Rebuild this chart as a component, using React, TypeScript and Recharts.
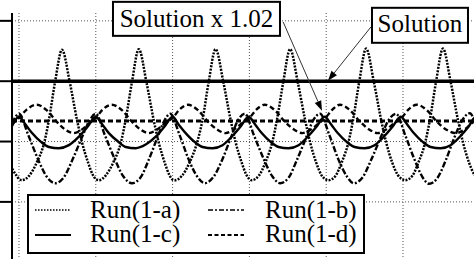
import React from 'react';
import { LineChart, Line, XAxis, YAxis, CartesianGrid, ReferenceLine, ReferenceDot, Legend } from 'recharts';

// ---------- data (axis units: one grid period on x, one tick step on y) ----------
const xTicks = [0, 1, 2, 3, 4, 5, 6];
const yTicks = [0, 1, 2, 3];
const xDomain: [number, number] = [-0.091, 6.393];
const yDomain: [number, number] = [-1.46, 3.13];

const solution = 2.0;
const solutionTimes102 = 1.34;

const run1a: [number, number][] = [
  [-0.09, 0.55], [-0.04, 0.45],
  [0.0, 0.38], [0.04, 0.36], [0.13, 0.43], [0.23, 0.65], [0.33, 0.99], [0.39, 1.36], [0.47, 1.99], [0.56, 2.52], [0.66, 1.99], [0.755, 1.36], [0.82, 0.99], [0.9, 0.65], [0.96, 0.45],
  [1.0, 0.38], [1.04, 0.36], [1.13, 0.44], [1.23, 0.66], [1.33, 1.0], [1.39, 1.37], [1.47, 1.98], [1.56, 2.53], [1.66, 1.98], [1.755, 1.35], [1.82, 0.98], [1.9, 0.64], [1.96, 0.44],
  [2.0, 0.37], [2.03, 0.36], [2.12, 0.43], [2.22, 0.65], [2.32, 0.99], [2.39, 1.36], [2.47, 1.99], [2.56, 2.53], [2.66, 1.99], [2.755, 1.36], [2.82, 0.99], [2.9, 0.65], [2.96, 0.45],
  [3.0, 0.38], [3.03, 0.36], [3.12, 0.43], [3.21, 0.66], [3.3, 1.0], [3.36, 1.37], [3.44, 1.98], [3.53, 2.53], [3.63, 1.98], [3.725, 1.36], [3.79, 0.99], [3.87, 0.65], [3.94, 0.44],
  [4.0, 0.37], [4.03, 0.36], [4.12, 0.43], [4.2, 0.65], [4.29, 0.99], [4.35, 1.36], [4.43, 1.99], [4.52, 2.54], [4.62, 1.99], [4.715, 1.36], [4.78, 0.99], [4.86, 0.65], [4.93, 0.45],
  [5.0, 0.37], [5.03, 0.36], [5.12, 0.43], [5.2, 0.65], [5.29, 0.99], [5.35, 1.36], [5.43, 1.99], [5.52, 2.54], [5.62, 1.99], [5.715, 1.36], [5.78, 0.99], [5.86, 0.65], [5.93, 0.45],
  [6.0, 0.37], [6.03, 0.36], [6.12, 0.43], [6.2, 0.65], [6.29, 0.99], [6.35, 1.36], [6.4, 1.75],
];

const run1b: [number, number][] = [
  [-0.09, 1.3],
  [0.0, 1.46], [0.12, 1.11], [0.25, 0.7], [0.36, 0.42], [0.47, 0.31], [0.58, 0.4], [0.7, 0.71], [0.82, 1.07], [0.92, 1.35],
  [1.0, 1.46], [1.12, 1.1], [1.25, 0.7], [1.36, 0.42], [1.47, 0.31], [1.58, 0.4], [1.69, 0.7], [1.8, 1.06], [1.89, 1.34],
  [1.97, 1.46], [2.09, 1.11], [2.21, 0.7], [2.32, 0.42], [2.42, 0.31], [2.53, 0.41], [2.65, 0.71], [2.76, 1.07], [2.85, 1.35],
  [2.94, 1.46], [3.06, 1.1], [3.19, 0.7], [3.3, 0.42], [3.4, 0.31], [3.51, 0.4], [3.62, 0.7], [3.74, 1.07], [3.83, 1.35],
  [3.92, 1.46], [4.04, 1.11], [4.16, 0.7], [4.27, 0.42], [4.36, 0.31], [4.47, 0.4], [4.59, 0.71], [4.71, 1.07], [4.81, 1.35],
  [4.91, 1.46], [5.03, 1.1], [5.15, 0.7], [5.25, 0.42], [5.34, 0.3], [5.45, 0.4], [5.56, 0.7], [5.67, 1.07], [5.77, 1.35],
  [5.87, 1.47], [5.99, 1.1], [6.11, 0.7], [6.22, 0.42], [6.32, 0.31], [6.4, 0.37],
];

const run1c: [number, number][] = [
  [-0.09, 1.26],
  [0.0, 1.41], [0.08, 1.29], [0.17, 1.14], [0.29, 0.99], [0.39, 0.91], [0.52, 0.89], [0.65, 0.94], [0.78, 1.08], [0.89, 1.24],
  [1.0, 1.41], [1.08, 1.29], [1.17, 1.14], [1.29, 1.0], [1.39, 0.91], [1.52, 0.89], [1.65, 0.95], [1.78, 1.08], [1.89, 1.24],
  [2.0, 1.41], [2.08, 1.28], [2.17, 1.14], [2.29, 0.99], [2.39, 0.91], [2.52, 0.89], [2.65, 0.94], [2.77, 1.08], [2.88, 1.24],
  [2.99, 1.41], [3.07, 1.29], [3.16, 1.14], [3.28, 0.99], [3.38, 0.91], [3.51, 0.89], [3.64, 0.94], [3.76, 1.08], [3.87, 1.24],
  [3.98, 1.41], [4.06, 1.29], [4.15, 1.14], [4.27, 0.99], [4.37, 0.91], [4.5, 0.89], [4.63, 0.94], [4.75, 1.08], [4.86, 1.24],
  [4.97, 1.41], [5.05, 1.29], [5.14, 1.14], [5.26, 0.99], [5.36, 0.91], [5.49, 0.89], [5.62, 0.94], [5.74, 1.08], [5.85, 1.24],
  [5.95, 1.41], [6.03, 1.29], [6.12, 1.14], [6.24, 0.99], [6.34, 0.91], [6.4, 0.9],
];

const run1d: [number, number][] = [
  [-0.09, 1.29],
  [0.0, 1.39], [0.1, 1.53], [0.23, 1.61], [0.36, 1.52], [0.49, 1.33], [0.6, 1.2], [0.71, 1.14], [0.82, 1.2], [0.92, 1.31],
  [1.0, 1.39], [1.09, 1.53], [1.21, 1.61], [1.34, 1.52], [1.47, 1.33], [1.58, 1.2], [1.69, 1.14], [1.8, 1.2], [1.91, 1.31],
  [2.0, 1.39], [2.09, 1.53], [2.2, 1.61], [2.33, 1.52], [2.46, 1.33], [2.58, 1.2], [2.69, 1.14], [2.8, 1.2], [2.91, 1.31],
  [3.0, 1.39], [3.09, 1.53], [3.2, 1.61], [3.33, 1.52], [3.46, 1.33], [3.58, 1.2], [3.69, 1.14], [3.8, 1.2], [3.91, 1.31],
  [3.99, 1.39], [4.08, 1.53], [4.18, 1.61], [4.31, 1.52], [4.44, 1.33], [4.56, 1.2], [4.67, 1.14], [4.78, 1.2], [4.89, 1.31],
  [4.98, 1.39], [5.07, 1.53], [5.18, 1.61], [5.31, 1.52], [5.44, 1.33], [5.56, 1.2], [5.69, 1.14], [5.8, 1.2], [5.9, 1.31],
  [5.97, 1.39], [6.07, 1.53], [6.18, 1.61], [6.31, 1.52], [6.4, 1.4],
];

const solutionLine: [number, number][] = [[-0.091, solution], [6.393, solution]];
const solution102Line: [number, number][] = [[-0.091, solutionTimes102], [6.393, solutionTimes102]];

const seriesNames = ['Run(1-a)', 'Run(1-b)', 'Run(1-c)', 'Run(1-d)'];

const annotationTexts = ['Solution x 1.02', 'Solution'];
const annotationX = [2.311, 5.221];
const annotationY = [3.033, 2.926];
const arrowFrom: [number, number][] = [[3.44, 2.98], [4.583, 2.9]];
const arrowTo: [number, number][] = [[3.945, 1.51], [4.023, 2.006]];

// ---------- styles ----------
const FONT = 'Liberation Serif';
const seriesStyles = [
  { dash: '2 1.3', width: 2.5, legendDash: '1.5 1.5', legendWidth: 1.5 },
  { dash: '6 2 2 2', width: 2.4, legendDash: '5 2 2 2', legendWidth: 1.6 },
  { dash: undefined, width: 2.4, legendDash: undefined, legendWidth: 2 },
  { dash: '5 3', width: 2.4, legendDash: '4 2.5', legendWidth: 1.8 },
];
const boxSizes = [
  { w: 167, h: 34, dy: 8 },
  { w: 96, h: 35, dy: 6.5 },
];

const toRows = (arr: [number, number][]) => arr.map(([x, y]) => ({ x, y }));

const seriesData = [run1a, run1b, run1c, run1d].map(toRows);

const ArrowShape = (p: any) => {
  const { x1, y1, x2, y2 } = p;
  const ang = Math.atan2(y2 - y1, x2 - x1);
  const L = 10;
  const W = 3.5;
  const bx = x2 - L * Math.cos(ang);
  const by = y2 - L * Math.sin(ang);
  const pts = `${x2},${y2} ${bx + W * Math.sin(ang)},${by - W * Math.cos(ang)} ${bx - W * Math.sin(ang)},${by + W * Math.cos(ang)}`;
  return (
    <g>
      <line x1={x1} y1={y1} x2={bx} y2={by} stroke="#333" strokeWidth={1} />
      <polygon points={pts} fill="#000" />
    </g>
  );
};

const makeBox = (i: number) => (p: any) => {
  const { cx, cy } = p;
  const s = boxSizes[i];
  return (
    <g>
      <rect x={cx - s.w / 2} y={cy - s.h / 2} width={s.w} height={s.h} fill="#fff" stroke="#000" strokeWidth={2} />
      <text x={cx} y={cy + s.dy} textAnchor="middle" style={{ fontFamily: FONT, fontSize: 25 }} fill="#000">
        {annotationTexts[i]}
      </text>
    </g>
  );
};

const LegendBox = () => {
  const colSample = [8, 181];
  const colText = [63, 238];
  const rowLine = [16, 41];
  const rowText = [23.5, 48];
  return (
    <svg width={338} height={60} style={{ display: 'block' }}>
      <rect x={1} y={1} width={336} height={58} fill="#fff" stroke="#000" strokeWidth={2} />
      {seriesNames.map((name, i) => {
        const col = i % 2;
        const row = Math.floor(i / 2);
        const st = seriesStyles[i];
        return (
          <g key={name}>
            <line
              x1={colSample[col]}
              x2={colSample[col] + 36}
              y1={rowLine[row]}
              y2={rowLine[row]}
              stroke="#000"
              strokeWidth={st.legendWidth}
              strokeDasharray={st.legendDash}
            />
            <text x={colText[col]} y={rowText[row]} style={{ fontFamily: FONT, fontSize: 25 }} fill="#000">
              {name}
            </text>
          </g>
        );
      })}
    </svg>
  );
};

const NoLabel = () => <g />;

export default function App() {
  return (
    <div style={{ position: 'absolute', left: 0, top: 0, width: 474, height: 259, overflow: 'hidden', background: '#fff' }}>
      <LineChart width={520} height={320} margin={{ top: 13, right: 10, left: 0, bottom: 0 }}>
        <CartesianGrid stroke="#555" strokeDasharray="1 2" strokeWidth={1} syncWithTicks />
        <XAxis
          dataKey="x"
          type="number"
          scale="linear"
          domain={xDomain}
          ticks={xTicks}
          allowDataOverflow
          height={30}
          axisLine={false}
          tickLine={false}
          tick={NoLabel}
        />
        <YAxis
          type="number"
          scale="linear"
          domain={yDomain}
          ticks={yTicks}
          allowDataOverflow
          width={12}
          tickSize={12}
          axisLine={{ stroke: '#000', strokeWidth: 2 }}
          tickLine={{ stroke: '#000', strokeWidth: 2 }}
          tick={NoLabel}
        />
        <Line data={toRows(solutionLine)} dataKey="y" stroke="#000" strokeWidth={3.5} dot={false} isAnimationActive={false} legendType="none" />
        <Line data={toRows(solution102Line)} dataKey="y" stroke="#000" strokeWidth={3} strokeDasharray="5 3" dot={false} isAnimationActive={false} legendType="none" />
        {seriesData.map((d, i) => (
          <Line
            key={seriesNames[i]}
            name={seriesNames[i]}
            data={d}
            dataKey="y"
            type="monotone"
            stroke="#000"
            strokeWidth={seriesStyles[i].width}
            strokeDasharray={seriesStyles[i].dash}
            dot={false}
            isAnimationActive={false}
          />
        ))}
        {arrowFrom.map((f, i) => (
          <ReferenceLine
            key={'arrow' + i}
            segment={[{ x: f[0], y: f[1] }, { x: arrowTo[i][0], y: arrowTo[i][1] }]}
            shape={ArrowShape}
            ifOverflow="visible"
          />
        ))}
        {annotationTexts.map((t, i) => (
          <ReferenceDot key={t} x={annotationX[i]} y={annotationY[i]} r={1} shape={makeBox(i)} ifOverflow="visible" />
        ))}
        <Legend
          layout="horizontal"
          verticalAlign="middle"
          align="center"
          content={() => <LegendBox />}
          wrapperStyle={{ position: 'absolute', left: 27, top: 194, width: 338, height: 60 }}
        />
      </LineChart>
    </div>
  );
}
